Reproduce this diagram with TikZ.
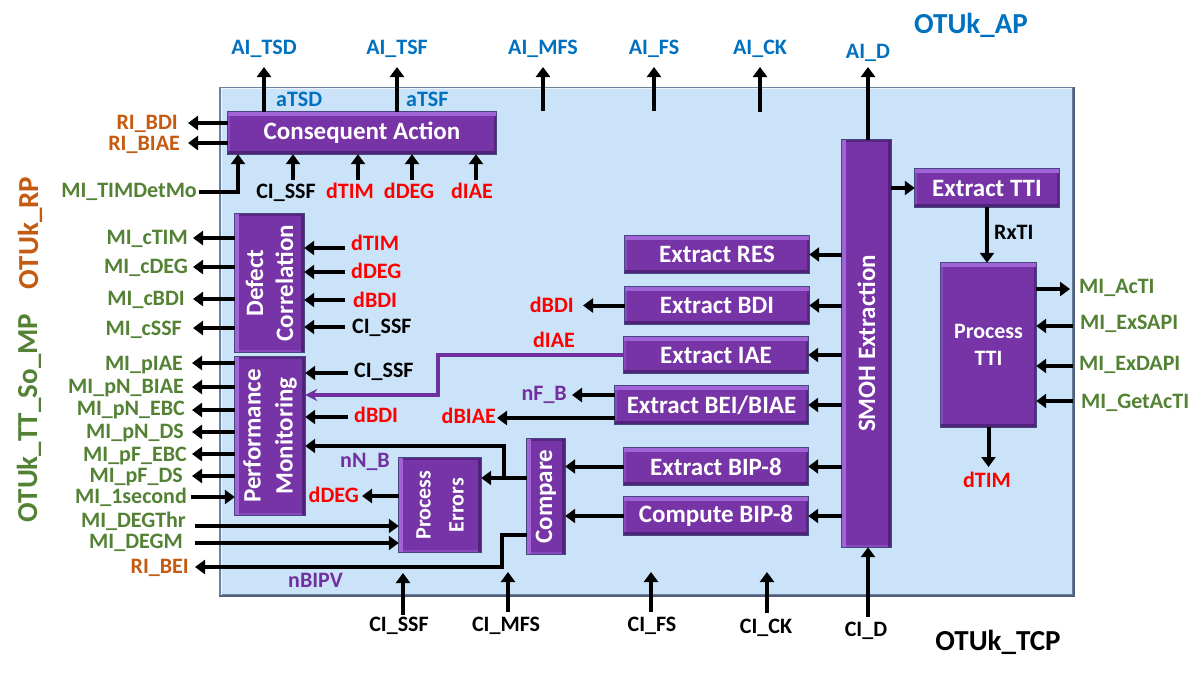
\documentclass[tikz,border=0pt]{standalone}
\usepackage{fontspec}
\setmainfont{Carlito}
\usetikzlibrary{arrows.meta,calc}
\definecolor{aiblue}{RGB}{0,112,192}
\definecolor{migreen}{RGB}{84,130,53}
\definecolor{riorange}{RGB}{197,90,17}
\definecolor{dred}{RGB}{255,0,0}
\definecolor{npurple}{RGB}{112,48,160}
\definecolor{boxfill}{RGB}{118,52,166}
\definecolor{boxhi}{RGB}{160,100,215}
\definecolor{boxside}{RGB}{136,72,190}
\definecolor{boxlo}{RGB}{80,34,122}
\definecolor{boxedge}{RGB}{72,72,128}
\definecolor{mainfill}{RGB}{202,227,249}
\definecolor{mainedge}{RGB}{108,128,160}
\newcommand\bevelbox[1]{%
  \fill[boxside] (#1.north west) -- (#1.south west) -- ($(#1.south west)!2.5pt!(#1.south east)$) -- ($(#1.north west)!2.5pt!(#1.north east)$) -- cycle;
  \fill[boxlo!80!boxfill] (#1.north east) -- (#1.south east) -- ($(#1.south east)!2.5pt!(#1.south west)$) -- ($(#1.north east)!2.5pt!(#1.north west)$) -- cycle;
  \fill[boxhi] (#1.north west) -- (#1.north east) -- ($(#1.north east)!4pt!(#1.south east)$) -- ($(#1.north west)!4pt!(#1.south west)$) -- cycle;
  \fill[boxlo] (#1.south west) -- (#1.south east) -- ($(#1.south east)!3pt!(#1.north east)$) -- ($(#1.south west)!3pt!(#1.north west)$) -- cycle;
  \draw[boxedge,line width=1.2pt] (#1.north west) rectangle (#1.south east);}
\begin{document}
\begin{tikzpicture}[x=1pt,y=-1pt,
  lbl/.style={font=\fontsize{22}{24}\selectfont\bfseries, inner sep=0pt},
  big/.style={font=\fontsize{29}{32}\selectfont\bfseries, inner sep=0pt},
  pbox/.style={rectangle, fill=boxfill, text=white, inner sep=0pt, align=center, font=\fontsize{25}{30}\selectfont\bfseries},
  arr/.style={line width=4pt, -{Triangle[length=10pt,width=14pt]}},
  parr/.style={line width=3.5pt, npurple, -{Stealth[length=12pt,width=12pt]}},
]
\useasboundingbox (0,0) rectangle (1200,675);
\fill[white] (0,0) rectangle (1200,675);

% main block
\node[draw=mainedge, fill=mainfill, line width=2pt, minimum width=853pt, minimum height=507pt, inner sep=0pt] (main) at (646.5,341.5) {};
\draw[white!60!mainfill, line width=1.2pt] ($(main.south west)!2.5pt!(main.north east)$) |- ($(main.north east)!2.5pt!(main.south west)$);
\draw[mainedge!75!black, line width=1.5pt] (main.south west) -- (main.south east) -- (main.north east);

% purple boxes
\node[pbox, minimum width=268pt, minimum height=42pt] (CA) at (362,133) {Consequent Action}; \bevelbox{CA}
\node[pbox, rotate=90, minimum width=138pt, minimum height=69pt] (DC) at (269.5,283) {Defect\\Correlation}; \bevelbox{DC}
\node[pbox, rotate=90, minimum width=158pt, minimum height=70pt, font=\fontsize{25}{32}\selectfont\bfseries] (PM) at (270,436) {Performance\\Monitoring}; \bevelbox{PM}
\node[pbox, rotate=90, minimum width=94pt, minimum height=82pt, font=\fontsize{22}{33}\selectfont\bfseries] (PE) at (440,505) {Process\\Errors}; \bevelbox{PE}
\node[pbox, rotate=90, minimum width=115pt, minimum height=38pt] (CMP) at (546,496.5) {Compare}; \bevelbox{CMP}
\node[pbox, minimum width=184pt, minimum height=37pt] (ERES) at (717,254.5) {Extract RES}; \bevelbox{ERES}
\node[pbox, minimum width=184pt, minimum height=37pt] (EBDI) at (717,305.5) {Extract BDI}; \bevelbox{EBDI}
\node[pbox, minimum width=184pt, minimum height=36pt] (EIAE) at (716,355) {Extract IAE}; \bevelbox{EIAE}
\node[pbox, minimum width=193pt, minimum height=38pt] (EBEI) at (711.5,405) {Extract BEI/BIAE}; \bevelbox{EBEI}
\node[pbox, minimum width=184pt, minimum height=37pt] (EBIP) at (716,466.5) {Extract BIP-8}; \bevelbox{EBIP}
\node[pbox, minimum width=184pt, minimum height=38pt] (CBIP) at (716,516) {Compute BIP-8}; \bevelbox{CBIP}
\node[pbox, rotate=90, minimum width=407pt, minimum height=49pt] (SMOH) at (866.5,343.5) {SMOH Extraction}; \bevelbox{SMOH}
\node[pbox, minimum width=144pt, minimum height=38pt] (ETTI) at (987,188) {Extract TTI}; \bevelbox{ETTI}
\node[pbox, minimum width=95pt, minimum height=164pt, font=\fontsize{22}{27}\selectfont\bfseries] (PTI) at (988.5,345) {Process\\TTI}; \bevelbox{PTI}

% ---- top outputs
\coordinate (tTSD) at (264,67); \draw[arr] (CA.north -| tTSD) -- (tTSD);
\coordinate (tTSF) at (397,67); \draw[arr] (CA.north -| tTSF) -- (tTSF);
\coordinate (sMFS) at (543,111); \coordinate (tMFS) at (543,67); \draw[arr] (sMFS) -- (tMFS);
\coordinate (sFS) at (654,111); \coordinate (tFS) at (654,67); \draw[arr] (sFS) -- (tFS);
\coordinate (sCK) at (760,112); \coordinate (tCK) at (760,67); \draw[arr] (sCK) -- (tCK);
\coordinate (tAD) at (868,67); \draw[arr] (SMOH.east -| tAD) -- (tAD);

% ---- consequent action
\coordinate (tRBDI) at (188,123); \draw[arr] (CA.west |- tRBDI) -- (tRBDI);
\coordinate (tRBIAE) at (188,143); \draw[arr] (CA.west |- tRBIAE) -- (tRBIAE);
\coordinate (sTDM) at (199,192); \coordinate (xTDM) at (238,160);
\draw[arr] (sTDM) -| (CA.south -| xTDM);
\foreach \xx in {293,358,412,476} {\coordinate (sca) at (\xx,180); \draw[arr] (sca) -- (CA.south -| sca);}

% ---- defect correlation
\foreach \yy in {238,267,299,328} {\coordinate (tdc) at (193,\yy); \draw[arr] (DC.north |- tdc) -- (tdc);}
\foreach \yy in {248,272,300,327} {\coordinate (sdc) at (345,\yy); \draw[arr] (sdc) -- (DC.south |- sdc);}

% ---- performance monitoring
\foreach \yy in {363,387,410,432,454,476} {\coordinate (tpm) at (192,\yy); \draw[arr] (PM.north |- tpm) -- (tpm);}
\coordinate (s1s) at (191,497); \draw[arr] (s1s) -- (PM.north |- s1s);
\coordinate (sPS) at (348,373); \draw[arr] (sPS) -- (PM.south |- sPS);
\coordinate (sPB) at (348,417); \draw[arr] (sPB) -- (PM.south |- sPB);
\coordinate (kIAE) at (438,395);
\draw[parr] (EIAE.west) -| (kIAE) -- (PM.south |- kIAE);
\coordinate (jCP) at (504,478); \coordinate (jN) at (504,446);
\draw[arr] (CMP.north |- jCP) -- (PE.south |- jCP);
\draw[arr] (jCP) -- (jN) -- (PM.south |- jN);

% ---- process errors
\coordinate (tPD) at (362,496); \draw[arr] (PE.north |- tPD) -- (tPD);
\coordinate (sDT) at (195,526); \draw[arr] (sDT) -- (PE.north |- sDT);
\coordinate (sDM) at (195,543); \draw[arr] (sDM) -- (PE.north |- sDM);
\coordinate (jB) at (502,535); \coordinate (tRBEI) at (195,567);
\draw[arr] (CMP.north |- jB) -- (jB) |- (tRBEI);

% ---- extraction
\foreach \bx in {ERES,EBDI,EIAE,EBEI,EBIP,CBIP} {\draw[arr] (SMOH.north |- \bx.east) -- (\bx.east);}
\coordinate (tEBDI) at (583,305.5); \draw[arr] (EBDI.west) -- (tEBDI);
\coordinate (tnF) at (572,395); \draw[arr] (EBEI.west |- tnF) -- (tnF);
\coordinate (tdB) at (497,418); \draw[arr] (EBEI.west |- tdB) -- (tdB);
\draw[arr] (EBIP.west) -- (EBIP.west -| CMP.south);
\draw[arr] (CBIP.west) -- (CBIP.west -| CMP.south);

% ---- TTI
\draw[arr] (SMOH.south |- ETTI.west) -- (ETTI.west);
\draw[arr] (ETTI.south) -- (ETTI.south |- PTI.north);
\coordinate (tAc) at (1070,289); \draw[arr] (PTI.east |- tAc) -- (tAc);
\foreach \yy in {326,366,401} {\coordinate (spt) at (1073,\yy); \draw[arr] (spt) -- (PTI.east |- spt);}
\coordinate (tPT) at (988.5,467); \draw[arr] (PTI.south) -- (tPT);

% ---- bottom inputs
\coordinate (sCS) at (403,615); \coordinate (tCS) at (403,573); \draw[arr] (sCS) -- (tCS);
\coordinate (sCM) at (508,612); \coordinate (tCM) at (508,572); \draw[arr] (sCM) -- (tCM);
\coordinate (sCF) at (651,612); \coordinate (tCF) at (651,572); \draw[arr] (sCF) -- (tCF);
\coordinate (sCK2) at (767,613); \coordinate (tCK2) at (767,572); \draw[arr] (sCK2) -- (tCK2);
\coordinate (sCD) at (868,617); \draw[arr] (sCD) -- (SMOH.west -| sCD);

% ---- labels
\node[lbl,text=aiblue,anchor=base] (lAITSD) at (264,54) {AI\_TSD};
\node[lbl,text=aiblue,anchor=base] (lAITSF) at (397,54) {AI\_TSF};
\node[lbl,text=aiblue,anchor=base] (lAIMFS) at (543,54) {AI\_MFS};
\node[lbl,text=aiblue,anchor=base] (lAIFS) at (654,54) {AI\_FS};
\node[lbl,text=aiblue,anchor=base] (lAICK) at (760,54) {AI\_CK};
\node[lbl,text=aiblue,anchor=base] (lAID) at (868,58) {AI\_D};
\node[big,text=aiblue,anchor=base] (lAP) at (971,33) {OTUk\_AP};
\node[lbl,text=aiblue,anchor=base west] (laTSD) at (276,106) {aTSD};
\node[lbl,text=aiblue,anchor=base west] (laTSF) at (406,106) {aTSF};
\node[lbl,text=riorange,anchor=base east] (lRBDI) at (178,129) {RI\_BDI};
\node[lbl,text=riorange,anchor=base east] (lRBIAE) at (180,150) {RI\_BIAE};
\node[lbl,text=migreen,anchor=base east] (lTDM) at (197,197) {MI\_TIMDetMo};
\node[lbl,anchor=base] (lCA1) at (286,198) {CI\_SSF};
\node[lbl,text=dred,anchor=base] (lCA2) at (350,198) {dTIM};
\node[lbl,text=dred,anchor=base] (lCA3) at (409,198) {dDEG};
\node[lbl,text=dred,anchor=base] (lCA4) at (472,198) {dIAE};
\node[big,text=riorange,anchor=base,rotate=90] (lRP) at (38,233) {OTUk\_RP};
\node[big,text=migreen,anchor=base,rotate=90] (lMP) at (37,418) {OTUk\_TT\_So\_MP};
\node[lbl,text=migreen,anchor=base east] (lcTIM) at (188,244) {MI\_cTIM};
\node[lbl,text=migreen,anchor=base east] (lcDEG) at (188,273) {MI\_cDEG};
\node[lbl,text=migreen,anchor=base east] (lcBDI) at (185,305) {MI\_cBDI};
\node[lbl,text=migreen,anchor=base east] (lcSSF) at (182,335) {MI\_cSSF};
\node[lbl,text=dred,anchor=base west] (lDC1) at (351,250) {dTIM};
\node[lbl,text=dred,anchor=base west] (lDC2) at (351,278) {dDEG};
\node[lbl,text=dred,anchor=base west] (lDC3) at (353,307) {dBDI};
\node[lbl,anchor=base west] (lDC4) at (352,333) {CI\_SSF};
\node[lbl,text=migreen,anchor=base east] (lpIAE) at (183,370) {MI\_pIAE};
\node[lbl,text=migreen,anchor=base east] (lpNBIAE) at (184,393) {MI\_pN\_BIAE};
\node[lbl,text=migreen,anchor=base east] (lpNEBC) at (185,415) {MI\_pN\_EBC};
\node[lbl,text=migreen,anchor=base east] (lpNDS) at (184,438) {MI\_pN\_DS};
\node[lbl,text=migreen,anchor=base east] (lpFEBC) at (187,461) {MI\_pF\_EBC};
\node[lbl,text=migreen,anchor=base east] (lpFDS) at (183,482) {MI\_pF\_DS};
\node[lbl,text=migreen,anchor=base east] (l1s) at (187,503) {MI\_1second};
\node[lbl,text=migreen,anchor=base east] (lDT) at (186,527) {MI\_DEGThr};
\node[lbl,text=migreen,anchor=base east] (lDM) at (183,548) {MI\_DEGM};
\node[lbl,text=riorange,anchor=base east] (lRBEI) at (189,573) {RI\_BEI};
\node[lbl,anchor=base west] (lPM1) at (354,377) {CI\_SSF};
\node[lbl,text=dred,anchor=base west] (lPM2) at (354,422) {dBDI};
\node[lbl,text=dred,anchor=base] (ldIAE) at (554,347) {dIAE};
\node[lbl,text=npurple,anchor=base east] (lnF) at (567,400) {nF\_B};
\node[lbl,text=dred,anchor=base east] (ldBIAE) at (496,423) {dBIAE};
\node[lbl,text=dred,anchor=base east] (ldBDI) at (574,312) {dBDI};
\node[lbl,text=npurple,anchor=base west] (lnN) at (340,467) {nN\_B};
\node[lbl,text=dred,anchor=base east] (ldDEG) at (359,502) {dDEG};
\node[lbl,text=npurple,anchor=base west] (lnBIPV) at (288,587) {nBIPV};
\node[lbl,anchor=base west] (lRx) at (994,239) {RxTI};
\node[lbl,text=migreen,anchor=base west] (lAcTI) at (1079,293) {MI\_AcTI};
\node[lbl,text=migreen,anchor=base west] (lExSAPI) at (1080,329) {MI\_ExSAPI};
\node[lbl,text=migreen,anchor=base west] (lExDAPI) at (1079,370) {MI\_ExDAPI};
\node[lbl,text=migreen,anchor=base west] (lGetAcTI) at (1081,408) {MI\_GetAcTI};
\node[lbl,text=dred,anchor=base] (ldTIM) at (987,487) {dTIM};
\node[big,anchor=base] (lTCP) at (998,650) {OTUk\_TCP};
\node[lbl,anchor=base] (lCISSF) at (399,631) {CI\_SSF};
\node[lbl,anchor=base] (lCIMFS) at (506,631) {CI\_MFS};
\node[lbl,anchor=base] (lCIFS) at (652,631) {CI\_FS};
\node[lbl,anchor=base] (lCICK) at (766,633) {CI\_CK};
\node[lbl,anchor=base] (lCID) at (866,636) {CI\_D};
\end{tikzpicture}
\end{document}
